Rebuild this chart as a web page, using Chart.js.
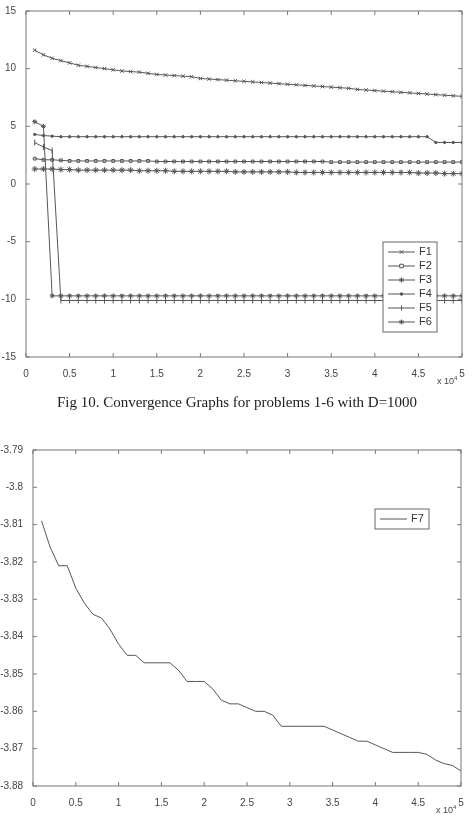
<!DOCTYPE html>
<html>
<head>
<meta charset="UTF-8">
<script src="https://cdn.jsdelivr.net/npm/chart.js"></script>
<style>
  body { margin: 0; background: #fff; width: 474px; height: 815px; position: relative; overflow: hidden; font-family: Arial, 'Liberation Sans', sans-serif; }
  .box { position: absolute; left: 0; width: 474px; }
  .caption { position: absolute; top: 394px; width: 474px; text-align: center; font-family: 'Liberation Serif', 'DejaVu Serif', serif; font-size: 15px; color: #222; }
  .mult { position: absolute; font-size: 9px; color: #444; }
  .mult sup { font-size: 6px; }
</style>
</head>
<body>
<div class="box" style="top:0;height:390px"><canvas id="top"></canvas></div>
<div class="mult" style="left:437px;top:375px">x 10<sup>4</sup></div>
<div class="caption">Fig 10. Convergence Graphs for problems 1-6 with D=1000</div>
<div class="box" style="top:430px;height:385px"><canvas id="bottom"></canvas></div>
<div class="mult" style="left:436px;top:804px">x 10<sup>4</sup></div>
<script>
const xs = [0.1,0.2,0.3,0.4,0.5,0.6,0.7,0.8,0.9,1.0,1.1,1.2,1.3,1.4,1.5,1.6,1.7,1.8,1.9,2.0,2.1,2.2,2.3,2.4,2.5,2.6,2.7,2.8,2.9,3.0,3.1,3.2,3.3,3.4,3.5,3.6,3.7,3.8,3.9,4.0,4.1,4.2,4.3,4.4,4.5,4.6,4.7,4.8,4.9,5.0];
const f1 = [11.6,11.2,10.9,10.7,10.5,10.3,10.2,10.1,10.0,9.9,9.8,9.75,9.7,9.6,9.5,9.45,9.4,9.35,9.3,9.15,9.1,9.05,9.0,8.95,8.9,8.85,8.8,8.75,8.7,8.65,8.6,8.55,8.5,8.45,8.4,8.35,8.3,8.2,8.15,8.1,8.05,8.0,7.95,7.9,7.85,7.8,7.75,7.7,7.65,7.6];
const f2 = [2.2,2.1,2.1,2.05,2.0,2.0,2.0,2.0,2.0,2.0,2.0,2.0,2.0,2.0,1.95,1.95,1.95,1.95,1.95,1.95,1.95,1.95,1.95,1.95,1.95,1.95,1.95,1.95,1.95,1.95,1.95,1.95,1.95,1.95,1.9,1.9,1.9,1.9,1.9,1.9,1.9,1.9,1.9,1.9,1.9,1.9,1.9,1.9,1.9,1.9];
const f3 = [5.4,5.0,-9.7,-9.7,-9.7,-9.7,-9.7,-9.7,-9.7,-9.7,-9.7,-9.7,-9.7,-9.7,-9.7,-9.7,-9.7,-9.7,-9.7,-9.7,-9.7,-9.7,-9.7,-9.7,-9.7,-9.7,-9.7,-9.7,-9.7,-9.7,-9.7,-9.7,-9.7,-9.7,-9.7,-9.7,-9.7,-9.7,-9.7,-9.7,-9.7,-9.7,-9.7,-9.7,-9.7,-9.7,-9.7,-9.7,-9.7,-9.7];
const f4 = [4.3,4.2,4.15,4.1,4.1,4.1,4.1,4.1,4.1,4.1,4.1,4.1,4.1,4.1,4.1,4.1,4.1,4.1,4.1,4.1,4.1,4.1,4.1,4.1,4.1,4.1,4.1,4.1,4.1,4.1,4.1,4.1,4.1,4.1,4.1,4.1,4.1,4.1,4.1,4.1,4.1,4.1,4.1,4.1,4.1,4.1,3.6,3.6,3.6,3.6];
const f5 = [3.6,3.2,2.9,-10.1,-10.1,-10.1,-10.1,-10.1,-10.1,-10.1,-10.1,-10.1,-10.1,-10.1,-10.1,-10.1,-10.1,-10.1,-10.1,-10.1,-10.1,-10.1,-10.1,-10.1,-10.1,-10.1,-10.1,-10.1,-10.1,-10.1,-10.1,-10.1,-10.1,-10.1,-10.1,-10.1,-10.1,-10.1,-10.1,-10.1,-10.1,-10.1,-10.1,-10.1,-10.1,-10.1,-10.1,-10.1,-10.1,-10.1];
const f6 = [1.3,1.3,1.3,1.25,1.25,1.2,1.2,1.2,1.2,1.2,1.2,1.2,1.15,1.15,1.15,1.15,1.1,1.1,1.1,1.1,1.1,1.1,1.1,1.05,1.05,1.05,1.05,1.05,1.05,1.05,1.0,1.0,1.0,1.0,1.0,1.0,1.0,1.0,1.0,1.0,1.0,1.0,1.0,1.0,0.95,0.95,0.95,0.9,0.9,0.9];
const f7 = [-3.809,-3.816,-3.821,-3.821,-3.827,-3.831,-3.834,-3.835,-3.838,-3.842,-3.845,-3.845,-3.847,-3.847,-3.847,-3.847,-3.849,-3.852,-3.852,-3.852,-3.854,-3.857,-3.858,-3.858,-3.859,-3.86,-3.86,-3.861,-3.864,-3.864,-3.864,-3.864,-3.864,-3.864,-3.865,-3.866,-3.867,-3.868,-3.868,-3.869,-3.870,-3.871,-3.871,-3.871,-3.871,-3.8715,-3.873,-3.874,-3.8745,-3.876];
const xTicks = [0,0.5,1,1.5,2,2.5,3,3.5,4,4.5,5];

const pts = ys => ys.map((y, i) => ({ x: xs[i], y }));
const gray = '#555';

// matlab-like inside ticks + boxed legend
const matlabBox = {
  id: 'matlabBox',
  afterDraw(chart, args, opts) {
    const { ctx, chartArea: a, scales } = chart;
    ctx.save();
    ctx.strokeStyle = '#777';
    ctx.lineWidth = 1;
    ctx.strokeRect(a.left, a.top, a.right - a.left, a.bottom - a.top);
    scales.x.ticks.forEach(t => {
      const px = scales.x.getPixelForValue(t.value);
      ctx.beginPath();
      ctx.moveTo(px, a.bottom); ctx.lineTo(px, a.bottom - 4);
      ctx.moveTo(px, a.top); ctx.lineTo(px, a.top + 4);
      ctx.stroke();
    });
    scales.y.ticks.forEach(t => {
      const py = scales.y.getPixelForValue(t.value);
      ctx.beginPath();
      ctx.moveTo(a.left, py); ctx.lineTo(a.left + 4, py);
      ctx.moveTo(a.right, py); ctx.lineTo(a.right - 4, py);
      ctx.stroke();
    });
    // legend
    const ds = chart.data.datasets;
    const lx = opts.x, ly = opts.y, w = opts.w, rowH = opts.rowH;
    const h = ds.length * rowH + 6;
    ctx.fillStyle = '#fff';
    ctx.fillRect(lx, ly, w, h);
    ctx.strokeStyle = '#666';
    ctx.strokeRect(lx, ly, w, h);
    ds.forEach((d, i) => {
      const cy = ly + 3 + rowH * i + rowH / 2;
      ctx.strokeStyle = gray;
      ctx.beginPath();
      ctx.moveTo(lx + 5, cy); ctx.lineTo(lx + w - 22, cy);
      ctx.stroke();
      if (d.pointStyle) {
        ctx.fillStyle = d.pointStyle === 'circle' ? gray : '#fff';
        Chart.helpers.drawPoint(ctx, { pointStyle: d.pointStyle, radius: d.pointStyle === 'circle' ? 1.3 : 2.5, rotation: d.pointRotation || 0, borderWidth: 1 }, (lx + 5 + lx + w - 22) / 2, cy);
      }
      ctx.fillStyle = '#333';
      ctx.font = '11px Arial';
      ctx.textBaseline = 'middle';
      ctx.fillText(d.label, lx + w - 18, cy);
    });
    ctx.restore();
  }
};

function makeDs(label, ys, style, rot, r) {
  return {
    label, data: pts(ys), borderColor: gray, borderWidth: 1,
    pointStyle: style, pointRotation: rot || 0, pointRadius: style ? (r || 2) : 0,
    pointBorderColor: gray, pointBackgroundColor: style === 'circle' ? gray : 'transparent',
    pointBorderWidth: 1, tension: 0
  };
}

function axes(yMin, yMax, yStep, yWidth, xHeight, yFmt) {
  return {
    x: {
      type: 'linear', min: 0, max: 5,
      afterBuildTicks: s => { s.ticks = xTicks.map(v => ({ value: v })); },
      afterFit: s => { s.height = xHeight; },
      grid: { display: false }, border: { display: false },
      ticks: { color: '#444', font: { size: 10, family: 'Arial' }, padding: 3, maxRotation: 0, callback: v => String(v) }
    },
    y: {
      min: yMin, max: yMax,
      ticks: { stepSize: yStep, color: '#444', font: { size: 10, family: 'Arial' }, padding: 2, callback: yFmt },
      afterFit: s => { s.width = yWidth; },
      grid: { display: false }, border: { display: false }
    }
  };
}

new Chart(document.getElementById('top'), {
  type: 'line',
  data: { datasets: [
    makeDs('F1', f1, 'crossRot', 0, 2.5),
    makeDs('F2', f2, 'rect', 0, 2),
    makeDs('F3', f3, 'star', 0, 2.5),
    makeDs('F4', f4, 'circle', 0, 1.2),
    makeDs('F5', f5, 'line', 90, 3),
    makeDs('F6', f6, 'star', 0, 3)
  ] },
  options: {
    responsive: true, maintainAspectRatio: false, animation: false,
    layout: { padding: { top: 11, right: 12, left: 0, bottom: 0 } },
    scales: axes(-15, 15, 5, 26, 33, v => v),
    plugins: { legend: { display: false }, tooltip: { enabled: false },
      matlabBox: { x: 383, y: 242, w: 54, rowH: 14 } }
  },
  plugins: [matlabBox]
});

new Chart(document.getElementById('bottom'), {
  type: 'line',
  data: { datasets: [ makeDs('F7', f7, false) ] },
  options: {
    responsive: true, maintainAspectRatio: false, animation: false,
    layout: { padding: { top: 20, right: 13, left: 0, bottom: 0 } },
    scales: axes(-3.88, -3.79, 0.01, 33, 29, v => Number(v.toFixed(2))),
    plugins: { legend: { display: false }, tooltip: { enabled: false },
      matlabBox: { x: 375, y: 79, w: 54, rowH: 14 } }
  },
  plugins: [matlabBox]
});
</script>
</body>
</html>
